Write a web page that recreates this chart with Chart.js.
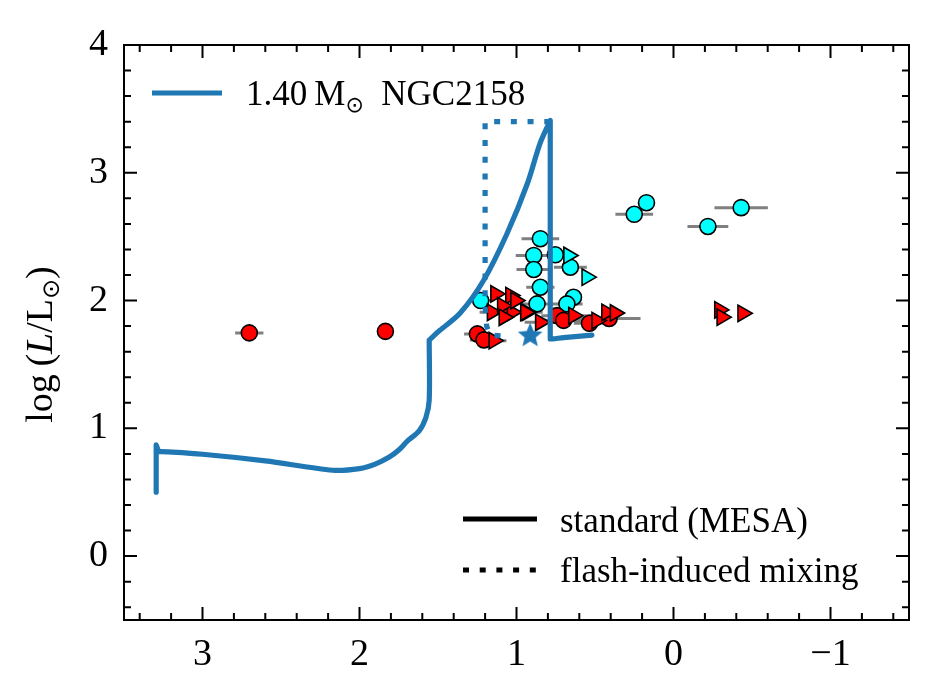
<!DOCTYPE html>
<html>
<head>
<meta charset="utf-8">
<script src="https://cdn.jsdelivr.net/npm/chart.js@4.4.0/dist/chart.umd.min.js"></script>
<style>
  html, body { margin: 0; padding: 0; background: #fff; }
  #wrap { width: 939px; height: 700px; }
</style>
</head>
<body>
<div id="wrap"><canvas id="hrd" width="939" height="700"></canvas></div>
<script>
// axis ticks
const xTicks = [3, 2, 1, 0, -1];
const xTickLabels = ['3', '2', '1', '0', '\u22121'];
const yTicks = [0, 1, 2, 3, 4];
const yTickLabels = ['0', '1', '2', '3', '4'];

// 1.40 Msun track, standard MESA (corner points repeated so they stay sharp)
const trackX = [3.295, 3.295, 3.295, 3.28, 3.28, 3.0, 2.6, 2.17, 2.0, 1.9, 1.81, 1.75, 1.694, 1.62, 1.577, 1.556, 1.556, 1.556, 1.49, 1.36, 1.21, 1.06, 0.93, 0.85, 0.785, 0.785, 0.785, 0.785, 0.77, 0.70, 0.52];
const trackY = [0.50, 0.87, 0.87, 0.82, 0.82, 0.797, 0.745, 0.672, 0.685, 0.72, 0.775, 0.83, 0.902, 0.98, 1.085, 1.22, 1.69, 1.69, 1.765, 1.90, 2.157, 2.525, 2.918, 3.231, 3.41, 3.41, 1.70, 1.70, 1.70, 1.71, 1.73];

// flash-induced mixing track
const mixX = [0.785, 1.20, 1.20, 1.19, 1.17, 1.06];
const mixY = [3.40, 3.40, 1.95, 1.80, 1.73, 1.72];

// star position
const starX = [0.913];
const starY = [1.725];

// cyan circles
const cyanCircX = [0.848, 0.89, 0.753, 0.89, 0.848, 0.869, 0.657, 0.637, 0.679, 1.228, 0.172, 0.25, -0.219, -0.431];
const cyanCircY = [2.484, 2.353, 2.358, 2.243, 2.104, 1.974, 2.261, 2.026, 1.974, 2.0, 2.766, 2.675, 2.58, 2.727];
const cyanCircErr = [0.12, 0.115, 0, 0.11, 0.09, 0.1, 0.105, 0, 0.1, 0.08, 0, 0.12, 0.13, 0.17];

// cyan triangles
const cyanTriX = [0.668, 0.552];
const cyanTriY = [2.353, 2.183];
const cyanTriErr = [0, 0];

// red circles
const redCircX = [2.702, 1.835, 1.249, 1.207, 0.742, 0.70, 0.535, 0.41];
const redCircY = [1.747, 1.759, 1.739, 1.692, 1.882, 1.845, 1.822, 1.86];
const redCircErr = [0.09, 0, 0.085, 0.09, 0.1, 0.12, 0.1, 0.2];

// red triangles
const redTriX = [1.133, 1.038, 1.155, 1.07, 1.028, 1.09, 0.933, 1.08, 0.848, 1.144, 1.006, 0.943, 0.637, 0.489, 0.426, 0.372, -0.293, -0.308, -0.441];
const redTriY = [2.052, 2.039, 1.908, 1.908, 1.908, 1.96, 1.908, 1.869, 1.83, 1.686, 2.0, 1.908, 1.882, 1.843, 1.908, 1.903, 1.927, 1.87, 1.90];
const redTriErr = [0, 0, 0.08, 0, 0.1, 0, 0.1, 0, 0.1, 0.08, 0, 0, 0.12, 0, 0, 0, 0, 0, 0];

const BLUE = '#1f77b4';
const SERIF = '"Liberation Serif", "DejaVu Serif", serif';
const LW = 5.2;

function pts(xs, ys) {
    return xs.map((x, i) => ({x: x, y: ys[i]}));
}

// horizontal error bars, broken with null points
function errBars(groups) {
    const out = [];
    groups.forEach(g => {
        g[0].forEach((x, i) => {
            const e = g[2][i];
            if (!e) return;
            out.push({x: x - e, y: g[1][i]}, {x: x + e, y: g[1][i]}, {x: x, y: null});
        });
    });
    return out;
}

// filled five-point star used as point style
function makeStar(r, color) {
    const c = document.createElement('canvas');
    c.width = c.height = 2 * r + 2;
    const g = c.getContext('2d');
    g.fillStyle = color;
    g.beginPath();
    for (let k = 0; k < 10; k++) {
        const a = -Math.PI / 2 + k * Math.PI / 5;
        const rr = k % 2 ? r * 0.45 : r;
        g.lineTo(r + 1 + rr * Math.cos(a), r + 1 + rr * Math.sin(a));
    }
    g.closePath();
    g.fill();
    return c;
}

// draws pieces [text, font, dy] one after the other
function drawPieces(ctx, pieces, x, y, align) {
    let total = 0;
    pieces.forEach(p => { ctx.font = p[1]; total += ctx.measureText(p[0]).width; });
    let cx = align === 'center' ? x - total / 2 : x;
    ctx.textAlign = 'left';
    ctx.textBaseline = 'alphabetic';
    pieces.forEach(p => {
        ctx.font = p[1];
        ctx.fillText(p[0], cx, y + (p[2] || 0));
        cx += ctx.measureText(p[0]).width;
    });
}

const frame = {
    id: 'frame',
    afterDraw(chart) {
        const ctx = chart.ctx;
        const a = chart.chartArea;
        const xs = chart.scales.x, ys = chart.scales.y;
        ctx.save();
        ctx.strokeStyle = '#000';
        ctx.lineWidth = 2;
        ctx.strokeRect(a.left, a.top, a.right - a.left, a.bottom - a.top);

        // inward ticks on all four sides
        ctx.beginPath();
        for (let v = -1.4; v <= 3.41; v += 0.2) {
            const major = Math.abs(v - Math.round(v)) < 1e-6;
            const len = major ? 13 : 7;
            const px = xs.getPixelForValue(v);
            ctx.moveTo(px, a.bottom); ctx.lineTo(px, a.bottom - len);
            ctx.moveTo(px, a.top); ctx.lineTo(px, a.top + len);
        }
        for (let v = -0.4; v <= 3.81; v += 0.2) {
            const major = Math.abs(v - Math.round(v)) < 1e-6;
            const len = major ? 13 : 7;
            const py = ys.getPixelForValue(v);
            ctx.moveTo(a.left, py); ctx.lineTo(a.left + len, py);
            ctx.moveTo(a.right, py); ctx.lineTo(a.right - len, py);
        }
        ctx.stroke();

        ctx.fillStyle = '#000';
        // y axis title
        ctx.save();
        ctx.translate(52, (a.top + a.bottom) / 2 + 12);
        ctx.rotate(-Math.PI / 2);
        const f = '38px ' + SERIF;
        drawPieces(ctx, [
            ['log', f], ['\u2009(', f], ['L', 'italic ' + f], ['/L', f],
            ['\u2299', '24px "DejaVu Sans", sans-serif', 7], [')', f]
        ], 0, 0, 'center');
        ctx.restore();

        // legend top left
        const lf = '35px ' + SERIF;
        ctx.strokeStyle = BLUE;
        ctx.lineWidth = LW;
        ctx.beginPath();
        ctx.moveTo(a.left + 28, a.top + 48); ctx.lineTo(a.left + 98, a.top + 48);
        ctx.stroke();
        drawPieces(ctx, [
            ['1.40\u2009M', lf], ['\u2299', '22px "DejaVu Sans", sans-serif', 7], ['\u2002NGC2158', lf]
        ], a.left + 122, a.top + 60, 'left');

        // legend bottom right
        ctx.strokeStyle = '#000';
        ctx.beginPath();
        ctx.moveTo(a.left + 339, a.bottom - 101); ctx.lineTo(a.left + 413, a.bottom - 101);
        ctx.stroke();
        ctx.setLineDash([6, 10.7]);
        ctx.beginPath();
        ctx.moveTo(a.left + 339, a.bottom - 50); ctx.lineTo(a.left + 413, a.bottom - 50);
        ctx.stroke();
        ctx.setLineDash([]);
        drawPieces(ctx, [['standard (MESA)', lf]], a.left + 436, a.bottom - 88, 'left');
        drawPieces(ctx, [['flash-induced mixing', lf]], a.left + 436, a.bottom - 38, 'left');
        ctx.restore();
    }
};

const marker = (color, style) => ({
    type: 'scatter',
    backgroundColor: color,
    borderColor: '#000',
    borderWidth: 1.6,
    pointStyle: style,
    pointRadius: style === 'triangle' ? 9.5 : 8,
    pointRotation: style === 'triangle' ? 90 : 0,
    pointHoverRadius: 8
});

new Chart(document.getElementById('hrd'), {
    type: 'scatter',
    data: {
        datasets: [
            {
                type: 'scatter', label: 'standard (MESA)', data: pts(trackX, trackY),
                showLine: true, borderColor: BLUE, borderWidth: LW, pointRadius: 0,
                tension: 0.3, borderCapStyle: 'round', borderJoinStyle: 'round', order: 0
            },
            {
                type: 'scatter', label: 'flash-induced mixing', data: pts(mixX, mixY),
                showLine: true, borderColor: BLUE, borderWidth: LW, pointRadius: 0,
                borderDash: [6, 10.7], borderCapStyle: 'butt', order: 0
            },
            Object.assign(marker(BLUE, makeStar(13, BLUE)), {label: 'star', data: pts(starX, starY), borderWidth: 0, order: 1}),
            Object.assign(marker('#ff0000', 'triangle'), {label: 'red triangles', data: pts(redTriX, redTriY), order: 2}),
            Object.assign(marker('#ff0000', 'circle'), {label: 'red circles', data: pts(redCircX, redCircY), order: 3}),
            Object.assign(marker('#00ffff', 'triangle'), {label: 'cyan triangles', data: pts(cyanTriX, cyanTriY), order: 4}),
            Object.assign(marker('#00ffff', 'circle'), {label: 'cyan circles', data: pts(cyanCircX, cyanCircY), order: 5}),
            {
                type: 'scatter', label: 'errors',
                data: errBars([[cyanCircX, cyanCircY, cyanCircErr], [cyanTriX, cyanTriY, cyanTriErr],
                               [redCircX, redCircY, redCircErr], [redTriX, redTriY, redTriErr]]),
                showLine: true, spanGaps: false, borderColor: '#808080', borderWidth: 3,
                pointRadius: 0, order: 6
            }
        ]
    },
    options: {
        responsive: false,
        animation: false,
        layout: {padding: {top: 45, right: 30, left: 0, bottom: 0}},
        plugins: {legend: {display: false}, tooltip: {enabled: false}},
        scales: {
            x: {
                type: 'linear', reverse: true, min: -1.5, max: 3.5,
                grid: {display: false, drawTicks: false},
                border: {display: false},
                afterBuildTicks: s => { s.ticks = xTicks.map(v => ({value: v})); },
                afterFit: s => { s.height = 80; },
                ticks: {
                    color: '#000', padding: 12, maxRotation: 0,
                    font: {family: SERIF, size: 38},
                    callback: v => xTickLabels[xTicks.indexOf(v)]
                }
            },
            y: {
                type: 'linear', min: -0.5, max: 4,
                grid: {display: false, drawTicks: false},
                border: {display: false},
                afterBuildTicks: s => { s.ticks = yTicks.map(v => ({value: v})); },
                afterFit: s => { s.width = 124; },
                ticks: {
                    color: '#000', padding: 16,
                    font: {family: SERIF, size: 38},
                    callback: v => yTickLabels[yTicks.indexOf(v)]
                }
            }
        }
    },
    plugins: [frame]
});
</script>
</body>
</html>
